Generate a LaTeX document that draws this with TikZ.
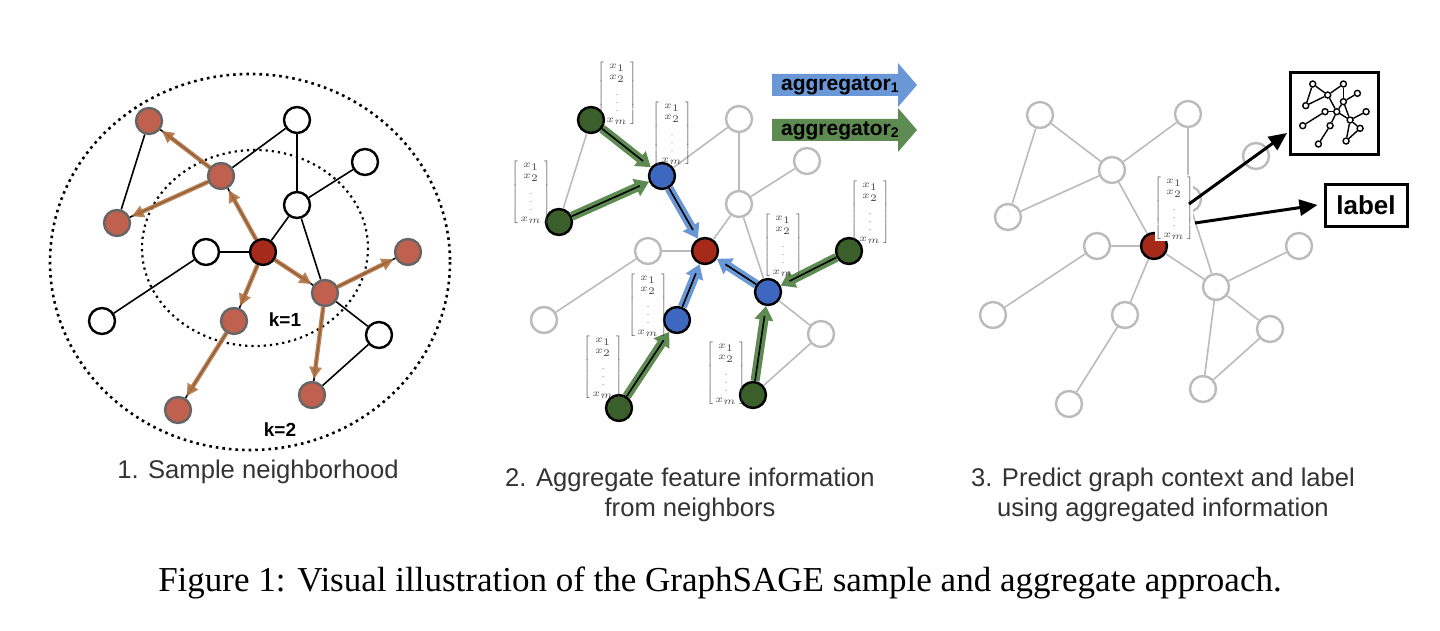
\documentclass[tikz,border=0pt]{standalone}
\usepackage{amsmath}
\usepackage{fontspec}
\setmainfont{Liberation Serif}
\setsansfont{Liberation Sans}
\usetikzlibrary{arrows.meta}
\definecolor{cred}{HTML}{A52A1A}
\definecolor{cbrn}{HTML}{C0604F}
\definecolor{cgrn}{HTML}{3A5F2A}
\definecolor{cblu}{HTML}{3E67C0}
\definecolor{ablu}{HTML}{6A98D6}
\definecolor{agrn}{HTML}{5E8B52}
\definecolor{carr}{HTML}{B07040}
\definecolor{cgry}{HTML}{BBBBBB}
\tikzset{
 nd/.style={circle,draw=black,line width=1.2pt,fill=white,minimum size=13pt,inner sep=0pt},
 wh/.style={nd},
 rd/.style={nd,fill=cred},
 br/.style={nd,fill=cbrn,draw=black!60},
 gn/.style={nd,fill=cgrn},
 bl/.style={nd,fill=cblu},
 gy/.style={nd,draw=cgry},
 edg/.style={line width=0.8pt},
 gedg/.style={line width=0.8pt,draw=cgry},
 barr/.style={draw=carr,opacity=0.85,line width=2.2pt,-{Triangle[length=6pt,width=6pt]},shorten >=1pt},
 thk/.style={line width=4.5pt,-{Triangle[length=7pt,width=9pt]}},
 midline/.style={line width=0.8pt,black,shorten >=5pt},
 vec/.style={text=black!70,inner sep=0pt},
 captxt/.style={font=\sffamily\fontsize{12.8}{15}\selectfont,text=black!80,align=center}
}
\newcommand\vv{\fontsize{4}{5}\selectfont\renewcommand\arraystretch{1.1}$\left[\begin{array}{@{\,}c@{\,}}\scriptscriptstyle x_1\\\scriptscriptstyle x_2\\\scriptscriptstyle\vdots\\\scriptscriptstyle x_m\end{array}\right]$}
\begin{document}
\begin{tikzpicture}[x=0.5pt,y=-0.5pt]
\useasboundingbox (0,0) rectangle (1440,631);
\fill[white] (0,0) rectangle (1440,631);
% ---------- panel 1
\draw[dotted,line width=1.3pt] (250,262) ellipse [x radius=200,y radius=188];
\draw[dotted,line width=1.1pt] (255,248) ellipse [x radius=113,y radius=98];
\foreach \n/\x/\y/\s in {C/263/252/rd,A/149/121/br,B/221/176/br,D/117/223/br,E/297/120/wh,F/365/162/wh,G/297/205/wh,H/206/252/wh,I/102/321/wh,J/234/321/br,K/325/293/br,L/408/252/br,M/379/335/wh,N/312/395/br,O/178/410/br}
  \node[\s] (p1\n) at (\x,\y) {};
\foreach \a/\b in {A/D,A/B,D/B,B/E,B/C,E/G,G/F,G/C,G/K,C/H,H/I,C/J,J/O,C/K,K/L,K/M,K/N,M/N}
  \draw[edg] (p1\a)--(p1\b);
\foreach \a/\b in {C/B,B/A,B/D,C/J,J/O,C/K,K/L,K/N}
  \draw[barr] (p1\a)--(p1\b);
\node[font=\sffamily\bfseries\fontsize{9.5}{10}\selectfont] (k1) at (285,320) {k=1};
\node[font=\sffamily\bfseries\fontsize{9.5}{10}\selectfont] (k2) at (280,430) {k=2};
\node[captxt] (c1) at (258,472) {1. Sample neighborhood};
% ---------- panel 2
\foreach \n/\x/\y/\s in {C/705/251/rd,A/591/120/gn,B/662/176/bl,D/559/222/gn,E/739/119/gy,F/807/161/gy,G/739/204/gy,H/648/251/gy,I/544/320/gy,J/677/320/bl,K/768/292/bl,L/849/251/gn,M/821/334/gy,N/753/395/gn,O/619/408/gn}
  \node[\s] (p2\n) at (\x,\y) {};
\foreach \a/\b in {A/D,B/E,E/G,G/F,G/C,G/K,C/H,H/I,K/M,M/N}
  \draw[gedg] (p2\a)--(p2\b);
\foreach \a/\b in {A/B,D/B,O/J,L/K,N/K}
  {\draw[thk,draw=agrn,fill=agrn] (p2\a)--(p2\b); \draw[midline] (p2\a)--(p2\b);}
\foreach \a/\b in {B/C,J/C,K/C}
  {\draw[thk,draw=ablu,fill=ablu] (p2\a)--(p2\b); \draw[midline] (p2\a)--(p2\b);}
\foreach \n/\x/\y in {A/617/93,B/672/133,D/531/192,J/648/305,O/603/367,K/783/245,L/870/212,N/726/373}
  \node[vec] (v\n) at (\x,\y) {\vv};
\fill[ablu] (772,74)--(898,74)--(898,63)--(917,85)--(898,107)--(898,96)--(772,96)--cycle;
\fill[agrn] (772,119)--(898,119)--(898,108)--(917,130)--(898,152)--(898,141)--(772,141)--cycle;
\node[font=\sffamily\bfseries\fontsize{10.5}{12}\selectfont,anchor=west] (ag1) at (774,86) {aggregator{\fontsize{7}{8}\selectfont\raisebox{-0.3ex}{1}}};
\node[font=\sffamily\bfseries\fontsize{10.5}{12}\selectfont,anchor=west] (ag2) at (774,131) {aggregator{\fontsize{7}{8}\selectfont\raisebox{-0.3ex}{2}}};
\node[captxt] (c2) at (690,495) {2. Aggregate feature information\\from neighbors};
% ---------- panel 3
\foreach \n/\x/\y in {A/1040/115,B/1112/170,D/1008/217,E/1188/114,F/1256/156,G/1188/199,H/1097/246,I/993/315,J/1125/315,K/1216/287,L/1299/246,M/1270/329,N/1203/389,O/1069/404}
  \node[gy] (p3\n) at (\x,\y) {};
\node[rd] (p3C) at (1154,246) {};
\foreach \a/\b in {A/D,A/B,D/B,B/E,B/C,E/G,G/C,G/K,C/H,H/I,C/J,J/O,C/K,K/L,K/M,K/N,M/N}
  \draw[gedg] (p3\a)--(p3\b);
\node[vec,fill=white] (v3) at (1174,208) {\vv};
\node[draw,line width=1.5pt,minimum width=44pt,minimum height=41pt] (gbox) at (1334.5,113.5) {};
\node[draw,line width=1.5pt,font=\sffamily\bfseries\fontsize{13}{14}\selectfont,minimum width=41pt,minimum height=21pt,inner sep=2pt] (lab) at (1366,205) {label};
\coordinate (s1) at (1189,204);
\coordinate (s2) at (1195,223);
\coordinate (g1) at (1287,133);
\draw[line width=1.5pt,-{Triangle[length=9pt,width=8pt]}] (s1)--(g1);
\draw[line width=1.5pt,-{Triangle[length=9pt,width=8pt]}] (s2)--([xshift=-3pt]lab.west);
\begin{scope}[shift={(960,60)},x=0.1667pt,y=-0.1667pt]
\foreach \n/\x/\y in {a/1058/72,b/1103/105,c/1150/72,d/1192/100,e/1150/125,f/1037/137,g/1095/155,h/1130/155,i/1218/155,j/1170/180,k/1028/197,l/1110/197,m/1200/205,n/1075/252,o/1158/243}
  \node[circle,draw,line width=0.7pt,fill=white,minimum size=3pt,inner sep=0pt] (t\n) at (\x,\y) {};
\foreach \a/\b in {a/b,a/f,f/b,b/c,c/e,e/d,b/h,e/h,g/h,h/l,l/n,k/g,e/j,h/j,j/i,j/m,j/o,o/m}
  \draw[line width=0.7pt] (t\a)--(t\b);
\end{scope}
\node[captxt] (c3) at (1163,495) {3. Predict graph context and label\\using aggregated information};
% ---------- caption
\node[font=\fontsize{17.5}{20}\selectfont] (fig) at (720,583) {Figure 1: Visual illustration of the GraphSAGE sample and aggregate approach.};
\end{tikzpicture}
\end{document}
